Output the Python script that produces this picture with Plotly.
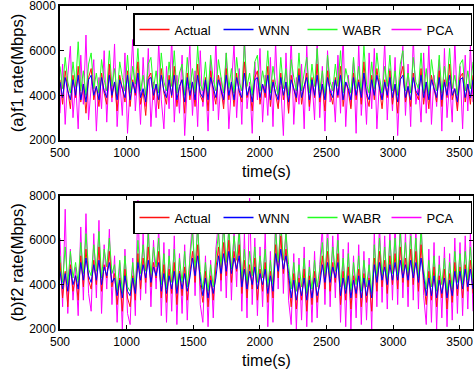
import plotly.graph_objects as go

# ---------------- data (Mbps), sampled evenly across 500..3600 s ----------------
a_actual = [
    4700, 3600, 5100, 4200, 3400, 4900, 3900, 5300, 3700, 4500, 3200, 4800, 5200, 3800, 4400, 3500, 5000, 4100, 3600, 5400,
    3900, 4600, 3300, 4900, 4300, 3700, 5100, 3500, 4700, 4000, 5500, 3600, 4200, 3100, 4800, 5000, 3800, 4500, 3400, 5200,
    4100, 3600, 4900, 3900, 5300, 3500, 4400, 4700, 3200, 5000, 3800, 4600, 3500, 5400, 4000, 3700, 4800, 3300, 5100, 4200,
    3600, 4900, 4300, 3400, 5200, 3800, 4600, 3500, 5000, 4100, 3700, 5500, 3900, 4400, 3300, 4800, 5100, 3600, 4500, 3900,
    5300, 3500, 4700, 4000, 3400, 5000, 3800, 4600, 3200, 4900, 4300, 3700, 5200, 3600, 4400, 5000, 3500, 4800, 3900, 5400,
    3700, 4500, 3300, 5100, 4100, 3600, 4800, 3900, 5300, 3500, 4600, 4200, 3400, 5000, 3800, 4700, 3600, 5500, 4000, 3500,
    4900, 3800, 5200, 4300, 3400, 4700, 3900, 5100, 3600, 4500, 3200, 4800, 5300, 3700, 4400, 3500, 5000, 4100, 3800, 5200,
    3600, 4600, 3400, 4900, 4200, 3700, 5100, 3500, 4700, 3900, 5400, 3800, 4300, 3300, 4800, 5000, 3700, 4500, 3600, 4900]
a_wnn = [
    4600, 3900, 4800, 4200, 3800, 4700, 4000, 4900, 3800, 4500, 3700, 4700, 4900, 4000, 4400, 3800, 4800, 4200, 3900, 4900,
    4000, 4600, 3800, 4700, 4300, 3900, 4900, 3800, 4600, 4100, 5000, 3900, 4300, 3700, 4700, 4800, 4000, 4500, 3800, 4900,
    4200, 3900, 4700, 4000, 4900, 3800, 4400, 4700, 3700, 4800, 4000, 4600, 3800, 4900, 4100, 3900, 4700, 3800, 4800, 4300,
    3900, 4700, 4300, 3800, 4900, 4000, 4600, 3800, 4800, 4200, 3900, 5000, 4000, 4400, 3700, 4700, 4800, 3900, 4500, 4100,
    4900, 3800, 4600, 4100, 3800, 4800, 4000, 4600, 3700, 4700, 4300, 3900, 4900, 3900, 4400, 4800, 3800, 4700, 4000, 4900,
    3900, 4500, 3800, 4800, 4200, 3900, 4700, 4000, 4900, 3800, 4600, 4300, 3800, 4800, 4000, 4600, 3900, 5000, 4100, 3800,
    4700, 4000, 4900, 4300, 3800, 4600, 4000, 4800, 3900, 4500, 3700, 4700, 4900, 3900, 4400, 3800, 4800, 4200, 4000, 4900,
    3900, 4600, 3800, 4700, 4300, 3900, 4800, 3800, 4600, 4000, 4900, 4000, 4300, 3700, 4700, 4800, 3900, 4500, 3900, 4700]
a_wabr = [
    5300, 4300, 5700, 4600, 4100, 5500, 4400, 6400, 4200, 5100, 4000, 5400, 5900, 4300, 5000, 4100, 5600, 4700, 4200, 6000,
    4400, 5200, 4000, 5500, 4800, 4200, 5800, 4100, 5300, 4500, 6100, 4200, 4900, 4000, 5400, 5700, 4300, 5100, 4100, 5900,
    4600, 4200, 5500, 4400, 6000, 4100, 5000, 5400, 4000, 5700, 4300, 5200, 4100, 6200, 4500, 4200, 5500, 4000, 5800, 4700,
    4200, 5600, 4800, 4100, 5900, 4300, 5200, 4100, 5700, 4600, 4200, 6300, 4400, 5000, 4000, 5500, 5800, 4200, 5100, 4400,
    6000, 4100, 5300, 4500, 4000, 5700, 4300, 5200, 4000, 5600, 4800, 4200, 5900, 4200, 5000, 5700, 4100, 5400, 4400, 6100,
    4200, 5100, 4000, 5800, 4600, 4200, 5400, 4400, 6000, 4100, 5200, 4700, 4100, 5700, 4300, 5300, 4100, 6200, 4500, 4100,
    5500, 4300, 5900, 4800, 4100, 5300, 4400, 5800, 4200, 5100, 4000, 5400, 6000, 4200, 5000, 4100, 5700, 4600, 4300, 5900,
    4100, 5200, 4000, 5600, 4700, 4200, 5800, 4100, 5300, 4400, 6100, 4300, 4900, 4000, 5400, 5600, 4200, 5100, 4300, 5500]
a_pca = [
    3200, 5400, 2700, 4900, 6200, 3000, 4600, 2500, 5800, 3600, 6700, 2900, 4400, 5600, 2400, 4800, 3400, 6000, 2800, 5200,
    3700, 6300, 2600, 4700, 3100, 5900, 2300, 4500, 6500, 3300, 5000, 2700, 5700, 3500, 6100, 2600, 4600, 3000, 6400, 3800,
    2500, 5300, 3400, 6600, 2800, 4900, 3200, 5800, 2200, 4400, 6200, 3100, 5100, 2600, 6000, 3500, 4700, 2400, 5600, 3300,
    6500, 2900, 4800, 3600, 5900, 2500, 4500, 6300, 3000, 5200, 2700, 6800, 3400, 4600, 2300, 5500, 3800, 6100, 2800, 4900,
    3100, 5700, 2600, 6400, 3500, 4400, 2200, 5900, 3200, 6600, 2700, 4800, 3600, 5400, 2500, 6200, 3300, 4700, 2900, 6500,
    3000, 5300, 2400, 6000, 3700, 4600, 2800, 5800, 3200, 6700, 2600, 4900, 3500, 5600, 2300, 6300, 3100, 5000, 2700, 5900,
    3400, 6100, 2500, 4700, 3800, 6400, 2900, 5200, 3300, 5700, 2200, 4800, 6200, 3100, 5400, 2600, 6600, 3600, 4500, 2800,
    5900, 3200, 6300, 2700, 4900, 3500, 5600, 2400, 6100, 3000, 4600, 2800, 6500, 3400, 5300, 2500, 5800, 3300, 6200, 3700]

b_actual = [
    5000, 3400, 4600, 3000, 4900, 3700, 4400, 3300,
    5300, 3900, 5600, 4200, 3800, 5100, 4000, 5700, 3700, 4900, 4300, 5500, 3900,
    4500, 3100, 4300, 2800, 4700, 3400, 3000, 4400, 3300,
    5400, 3800, 5200, 4100, 5700, 3900, 5000, 4300, 5500,
    3400, 4900, 3200, 4700, 3600, 5000, 3100, 4600, 3500, 4800, 3300, 4500,
    5500, 4100, 5800, 4000,
    3200, 4600, 3000, 4400, 3300, 4700,
    5700, 4200, 5900, 4400, 6000, 4100, 5500, 4600, 5800,
    3600, 5100, 3400, 4900, 3800, 5200, 3300, 4700, 3700, 5000,
    3200, 4600, 3400,
    5800, 4300, 6200, 4500, 5600, 4200,
    3000, 4500, 2900, 4300, 3300, 4700, 2800, 4400, 3100, 4600, 3200, 4200,
    5300, 3800, 5500, 3700, 5000, 4100, 5400,
    3100, 4600, 3300, 4800, 2900, 4400, 3400, 4700, 3000, 4500, 3200, 4300, 2800,
    5200, 3700, 5500, 3900, 5100, 3600, 5300, 4000,
    5400, 3800, 5700, 4100, 5200, 3900, 5600, 4000, 5500, 3700, 5800, 4200,
    3100, 4600, 3300, 4800, 3000, 4400, 3400, 4700, 2900, 4500, 3200,
    5000, 3500, 4800, 3400, 4900, 3700, 5100, 3600]
b_wnn = [
    4600, 3800, 4500, 3700, 4700, 4000, 4400, 3800,
    5000, 4200, 5200, 4400, 4100, 4900, 4200, 5100, 4000, 4800, 4400, 5000, 4100,
    4300, 3500, 4200, 3400, 4400, 3700, 3500, 4300, 3600,
    5000, 4200, 4900, 4300, 5100, 4100, 4800, 4400, 5000,
    3700, 4500, 3600, 4400, 3800, 4600, 3600, 4500, 3800, 4500, 3700, 4300,
    5200, 4400, 5300, 4300,
    3500, 4300, 3400, 4200, 3600, 4300,
    5300, 4500, 5400, 4600, 5500, 4500, 5200, 4700, 5300,
    3900, 4700, 3800, 4600, 4000, 4800, 3800, 4500, 4000, 4700,
    3600, 4400, 3700,
    5400, 4600, 5600, 4700, 5300, 4500,
    3400, 4200, 3300, 4100, 3500, 4300, 3300, 4200, 3400, 4300, 3500, 4000,
    4900, 4100, 5000, 4100, 4800, 4300, 5000,
    3500, 4300, 3600, 4400, 3400, 4200, 3600, 4400, 3400, 4300, 3500, 4200, 3400,
    4900, 4100, 5000, 4200, 4800, 4000, 4900, 4200,
    5000, 4200, 5100, 4300, 4900, 4200, 5100, 4300, 5000, 4100, 5200, 4400,
    3500, 4300, 3500, 4400, 3400, 4200, 3600, 4300, 3400, 4200, 3500,
    4600, 3800, 4600, 3800, 4700, 3900, 4700, 3800]
b_wabr = [
    5300, 4100, 5700, 4000, 5500, 4300, 5000, 4100,
    5900, 4500, 6300, 4700, 4400, 5800, 4600, 6400, 4300, 5600, 4800, 6100, 4500,
    4900, 3700, 5100, 3600, 5300, 3900, 3700, 5000, 3800,
    6000, 4500, 5800, 4600, 6300, 4400, 5700, 4800, 6100,
    4000, 5400, 3800, 5300, 4100, 5600, 3800, 5200, 4100, 5500, 3900, 5100,
    6400, 4700, 6600, 4600,
    3800, 5000, 3700, 4900, 3900, 5200,
    6300, 4800, 6600, 5000, 6500, 4700, 6200, 5100, 6400,
    4200, 5600, 4000, 5500, 4400, 5700, 4100, 5300, 4300, 5600,
    3900, 5100, 4000,
    6400, 5000, 6700, 5100, 6300, 4900,
    3800, 5000, 3700, 4900, 3900, 5200, 3600, 4800, 3800, 5100, 3900, 4700,
    5900, 4400, 6100, 4300, 5700, 4600, 6000,
    3900, 5200, 3800, 5400, 3700, 5000, 4000, 5300, 3700, 5100, 3900, 4900, 3600,
    5800, 4300, 6100, 4400, 5700, 4200, 6000, 4500,
    6100, 4400, 6400, 4600, 5900, 4400, 6200, 4500, 6100, 4300, 6500, 4700,
    3800, 5100, 3900, 5300, 3700, 4900, 4000, 5200, 3600, 5000, 3800,
    5500, 4100, 5400, 4000, 5500, 4200, 5700, 4100]
b_pca = [
    6100, 3000, 7400, 2700, 5600, 3300, 4800, 2600,
    6600, 3300, 7200, 3600, 2800, 6300, 3400, 6900, 2700, 5800, 3800, 6500, 3100,
    5300, 2300, 5000, 2000, 5600, 2700, 2200, 5200, 2600,
    7800, 3300, 6300, 3600, 6900, 3000, 6000, 3800, 6600,
    2600, 5900, 2300, 5600, 2800, 6200, 2200, 5400, 2700, 5800, 2400, 5300,
    6900, 3500, 7200, 3100,
    2300, 5300, 2100, 5100, 2500, 5600,
    6800, 3700, 7300, 3400, 6900, 3300, 6500, 3900, 7100,
    2800, 6300, 2500, 7900, 3100, 6100, 2600, 5700, 3000, 6400,
    2100, 5500, 2300,
    7200, 3800, 7600, 3600, 6800, 3300,
    2200, 5400, 2000, 5200, 2400, 5700, 2100, 5100, 2300, 5500, 2500, 4900,
    6600, 3100, 6900, 3000, 6200, 3400, 6700,
    2300, 5600, 2100, 5900, 2000, 5300, 2500, 5800, 2200, 5500, 2400, 5200, 2000,
    6400, 3000, 6800, 3200, 6200, 2900, 6500, 3300,
    6800, 3100, 7000, 3400, 6400, 3000, 6900, 3300, 6600, 2900, 7100, 3500,
    2200, 5600, 2300, 5900, 2000, 5300, 2500, 5700, 2100, 5400, 2400,
    6100, 2700, 5900, 2600, 6200, 2900, 6400, 2800]

t_start, t_end = 500, 3600
x_ticks = [500, 1000, 1500, 2000, 2500, 3000, 3500]
y_ticks = [2000, 4000, 6000, 8000]
series_names = ["Actual", "WNN", "WABR", "PCA"]
colors = {"Actual": "#ff1010", "WNN": "#0000ff", "WABR": "#22ff22", "PCA": "#ff00ff"}


def times(vals):
    n = len(vals)
    return [t_start + k * (t_end - t_start) / (n - 1) for k in range(n)]


fig = go.Figure()
panels = [
    ("x", "y", "legend", {"Actual": a_actual, "WNN": a_wnn, "WABR": a_wabr, "PCA": a_pca}),
    ("x2", "y2", "legend2", {"Actual": b_actual, "WNN": b_wnn, "WABR": b_wabr, "PCA": b_pca}),
]
draw_order = ["PCA", "WABR", "Actual", "WNN"]
for xa, ya, lg, data in panels:
    for name in draw_order:
        vals = data[name]
        fig.add_trace(go.Scatter(
            x=times(vals), y=vals, mode="lines", name=name,
            line=dict(color=colors[name], width=1),
            xaxis=xa, yaxis=ya, showlegend=False,
        ))
    # legend keys (sample lines, in legend order)
    for name in series_names:
        fig.add_trace(go.Scatter(
            x=[None], y=[None], mode="lines", name=name,
            line=dict(color=colors[name], width=1.5),
            xaxis=xa, yaxis=ya, legend=lg, showlegend=True, hoverinfo="skip",
        ))

font_family = "Arial, Liberation Sans, sans-serif"
axis_common = dict(
    showline=True, linecolor="black", linewidth=1.5, mirror="ticks",
    ticks="inside", ticklen=4, tickcolor="black", showgrid=False, zeroline=False,
    automargin=False, ticklabeloverflow="allow",
    tickfont=dict(size=12, color="black", family=font_family),
)
legend_common = dict(
    orientation="h", xanchor="right", yanchor="top", x=0.9976,
    bgcolor="white", bordercolor="black", borderwidth=1.5,
    font=dict(size=13, color="black", family=font_family),
    entrywidth=39, entrywidthmode="pixels", tracegroupgap=0,
    itemwidth=30,
)

fig.update_layout(
    width=474, height=372,
    margin=dict(l=60, r=1, t=6, b=43),
    paper_bgcolor="white", plot_bgcolor="white",
    font=dict(family=font_family, color="black"),
    showlegend=True,
    xaxis=dict(domain=[0, 1], range=[t_start, t_end], tickvals=x_ticks, anchor="y", ticklabelstandoff=1,
               title=dict(text="time(s)", font=dict(size=16), standoff=7), **axis_common),
    yaxis=dict(domain=[0.585, 1], range=[2000, 8000], tickvals=y_ticks, anchor="x",
               title=dict(text="(a)f1 rate(Mbps)", font=dict(size=16.5), standoff=1), **axis_common),
    xaxis2=dict(domain=[0, 1], range=[t_start, t_end], tickvals=x_ticks, anchor="y2", ticklabelstandoff=1,
                title=dict(text="time(s)", font=dict(size=16), standoff=7), **axis_common),
    yaxis2=dict(domain=[0, 0.412], range=[2000, 8000], tickvals=y_ticks, anchor="x2",
                title=dict(text="(b)f2 rate(Mbps)", font=dict(size=16.5), standoff=1), **axis_common),
    legend=dict(y=0.978, **legend_common),
    legend2=dict(y=0.396, **legend_common),
)

fig.write_html("out.html", config={"displayModeBar": False},
               post_script="document.body.style.margin='0';document.body.style.overflow='hidden';")
